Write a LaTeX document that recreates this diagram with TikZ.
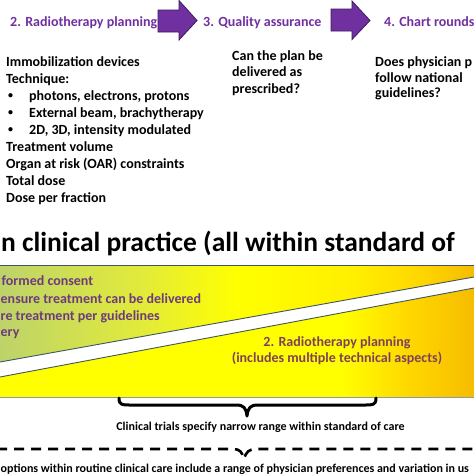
\documentclass[tikz,border=0pt]{standalone}
\usepackage{fontspec}
\setmainfont{Carlito}
\definecolor{hpurple}{HTML}{7030A0}
\definecolor{arrowedge}{HTML}{3C1A5C}
\definecolor{upA}{HTML}{BDD36A}
\definecolor{upB}{HTML}{E2EB3A}
\definecolor{yel}{HTML}{FFFF00}
\definecolor{yelB}{HTML}{FFF000}
\definecolor{orB}{HTML}{FFD800}
\definecolor{orC}{HTML}{F6BC00}
\definecolor{edgeline}{HTML}{3F5664}
\definecolor{boxtextA}{HTML}{6D3B7D}
\definecolor{boxtextB}{HTML}{7D4259}
\pgfdeclarehorizontalshading{upshade}{100bp}{color(0bp)=(upA); color(25bp)=(upA); color(40bp)=(upB); color(50bp)=(yel); color(62bp)=(yelB); color(69bp)=(orB); color(75bp)=(orC); color(100bp)=(orC)}
\pgfdeclarehorizontalshading{lowshade}{100bp}{color(0bp)=(yel); color(25bp)=(yel); color(61bp)=(yel); color(68bp)=(orB); color(75bp)=(orC); color(100bp)=(orC)}
\begin{document}
\begin{tikzpicture}[x=1pt,y=-1pt,
  headtxt/.style={font=\bfseries\fontsize{14}{17}\selectfont, text=hpurple, inner sep=0, anchor=base west},
  bodytxt/.style={font=\bfseries\fontsize{14}{17}\selectfont, text=black, inner sep=0, anchor=base west},
  bullettxt/.style={font=\bfseries\fontsize{10}{12}\selectfont, text=black, inner sep=0, anchor=base west},
  boxtxtA/.style={font=\bfseries\fontsize{14}{17}\selectfont, text=boxtextA, inner sep=0, anchor=base west},
  boxtxtB/.style={font=\bfseries\fontsize{14}{17}\selectfont, text=boxtextB, inner sep=0, anchor=base},
  smalltxt/.style={font=\bfseries\fontsize{12}{14}\selectfont, text=black, inner sep=0},
  blockarrow/.style={fill=hpurple, draw=arrowedge, line width=0.8pt, line join=miter},
  bandedge/.style={draw=edgeline, line width=0.9pt},
  bracestyle/.style={draw=black, line width=3pt, line cap=round, line join=round}]
\useasboundingbox (0,0) rectangle (474,474);
\clip (0,0) rectangle (474,474);
\fill[white] (0,0) rectangle (474,474);

% top row headings
\node[headtxt] (h2) at (10,26) {2. Radiotherapy planning};
\node[headtxt] (h3) at (203,26) {3. Quality assurance};
\node[headtxt] (h4) at (384,26) {4. Chart rounds};

% block arrows
\path[blockarrow] (158,10) -- (179,10) -- (179,0.5) -- (197,20.5) -- (179,40) -- (179,32) -- (158,32) -- cycle;
\path[blockarrow] (331,9) -- (352,9) -- (352,1) -- (370,20.5) -- (352,39.5) -- (352,31) -- (331,31) -- cycle;

% left column
\node[bodytxt] (l1) at (6,66) {Immobilization devices};
\node[bodytxt] (l2) at (6,83) {Technique:};
\node[bullettxt] (b3) at (8,98.5) {•};
\node[bodytxt] (l3) at (29,100) {photons, electrons, protons};
\node[bullettxt] (b4) at (8,115.5) {•};
\node[bodytxt] (l4) at (29,117) {External beam, brachytherapy};
\node[bullettxt] (b5) at (8,132.5) {•};
\node[bodytxt] (l5) at (29,134) {2D, 3D, intensity modulated};
\node[bodytxt] (l6) at (6,151) {Treatment volume};
\node[bodytxt] (l7) at (6,168) {Organ at risk (OAR) constraints};
\node[bodytxt] (l8) at (6,185) {Total dose};
\node[bodytxt] (l9) at (6,202) {Dose per fraction};

% middle column
\node[bodytxt] (m1) at (232,60) {Can the plan be};
\node[bodytxt] (m2) at (232,76.7) {delivered as};
\node[bodytxt] (m3) at (232,93.3) {prescribed?};

% right column
\node[bodytxt] (r1) at (375,66.5) {Does physician p};
\node[bodytxt] (r2) at (375,82.2) {follow national};
\node[bodytxt] (r3) at (375,97.9) {guidelines?};

% title
\node[font=\bfseries\fontsize{27.5}{32}\selectfont, inner sep=0, anchor=base east] (title) at (455,251) {n clinical practice (all within standard of};

% gradient box
\path[shading=upshade] (0,266) -- (474,266) -- (474,277) -- (0,362) -- cycle;
\path[shading=lowshade] (0,377) -- (474,288) -- (474,397) -- (0,397) -- cycle;
\draw[bandedge] (0,362) -- (474,277);
\draw[bandedge] (0,377) -- (474,288);
\draw[draw=edgeline, line width=1pt] (0,265.5) -- (474,265.5);
\draw[draw=edgeline!60, line width=0.6pt] (0,397.3) -- (474,397.3);

% box texts
\node[boxtxtA] (u1) at (1.5,285.7) {formed consent};
\node[boxtxtA] (u2) at (0.5,303) {ensure treatment can be delivered};
\node[boxtxtA] (u3) at (0.5,320) {re treatment per guidelines};
\node[boxtxtA] (u4) at (0.5,336.7) {ery};
\node[boxtxtB] (p1) at (337,346) {2. Radiotherapy planning};
\node[boxtxtB] (p2) at (337,362.3) {(includes multiple technical aspects)};

% solid brace
\coordinate (brL) at (119,398);
\coordinate (brR) at (376,398);
\coordinate (brT) at (247,416);
\path[bracestyle] (brL) .. controls (119,405) and (122,405) .. (130,405) -- (236,405) .. controls (244,405) and (246,408) .. (brT) .. controls (248,408) and (250,405) .. (258,405) -- (365,405) .. controls (373,405) and (376,405) .. (brR);
\node[smalltxt, anchor=base] (ct) at (260.5,430) {Clinical trials specify narrow range within standard of care};

% dashed brace
\coordinate (dL) at (0,449);
\coordinate (dR) at (474,449);
\coordinate (dT) at (244,459);
\draw[line width=2.6pt, dash pattern=on 10pt off 7pt, dash phase=3pt] (dL) -- (233,449) .. controls (240,449) and (242,452) .. (dT) .. controls (246,452) and (249,449) .. (256,449) -- (dR);
\node[smalltxt, anchor=base west] (bt) at (0.5,472.5) {options within routine clinical care include a range of physician preferences and variation in us};
\end{tikzpicture}
\end{document}
